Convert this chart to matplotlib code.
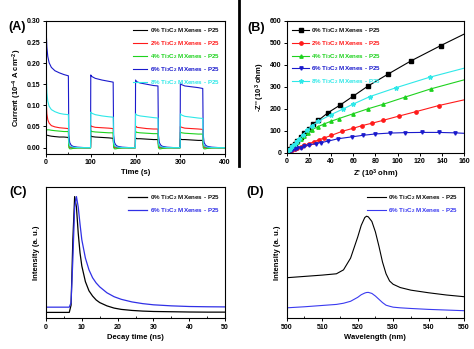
import numpy as np
import matplotlib
matplotlib.use("Agg")
import matplotlib.pyplot as plt
from matplotlib.ticker import MultipleLocator, FormatStrFormatter

plt.rcParams['font.family'] = ['Liberation Sans', 'DejaVu Sans']
plt.rcParams['font.weight'] = 'bold'
plt.rcParams['mathtext.fontset'] = 'custom'
plt.rcParams['mathtext.rm'] = 'Liberation Sans:bold'
plt.rcParams['mathtext.it'] = 'Liberation Sans:bold'
plt.rcParams['mathtext.bf'] = 'Liberation Sans:bold'

labels = ["0% Ti$_3$C$_2$ MXenes - P25", "2% Ti$_3$C$_2$ MXenes - P25",
          "4% Ti$_3$C$_2$ MXenes - P25", "6% Ti$_3$C$_2$ MXenes - P25",
          "8% Ti$_3$C$_2$ MXenes - P25"]
colors = ["#000000", "#ff1a1a", "#1ed21e", "#1a1acc", "#2ee8e8"]
text_colors = ["#111111", "#ff1a1a", "#1ed21e", "#1a1acc", "#2ee8e8"]

# (A) photocurrent, light on/off every 50 s
time_s = [0, 1, 2, 4, 7, 12, 20, 30, 40, 50,
          51, 53, 56, 60, 70, 85, 99.5,
          100, 101, 103, 110, 125, 140, 150,
          151, 153, 156, 160, 170, 185, 199.5,
          200, 201, 203, 210, 225, 240, 250,
          251, 253, 256, 260, 270, 285, 299.5,
          300, 301, 303, 310, 325, 340, 350,
          351, 353, 356, 360, 370, 385, 400]
cur_0 = [0.030, 0.029, 0.029, 0.029, 0.028, 0.027, 0.026, 0.025, 0.025, 0.024,
         0.008, 0.003, 0.001, 0.000, 0.000, 0.000, 0.000,
         0.028, 0.027, 0.026, 0.025, 0.024, 0.023, 0.022,
         0.008, 0.003, 0.001, 0.000, 0.000, 0.000, 0.000,
         0.023, 0.022, 0.021, 0.021, 0.020, 0.019, 0.019,
         0.008, 0.003, 0.001, 0.000, 0.000, 0.000, 0.000,
         0.021, 0.020, 0.019, 0.019, 0.018, 0.017, 0.017,
         0.008, 0.003, 0.001, 0.000, 0.000, 0.000, 0.000]
cur_2 = [0.145, 0.100, 0.080, 0.066, 0.058, 0.052, 0.049, 0.047, 0.046, 0.045,
         0.005, 0.000, -0.001, -0.001, -0.0005, 0.000, 0.000,
         0.052, 0.051, 0.050, 0.048, 0.047, 0.046, 0.045,
         0.005, 0.000, -0.001, -0.001, -0.0005, 0.000, 0.000,
         0.051, 0.050, 0.048, 0.047, 0.045, 0.044, 0.044,
         0.005, 0.000, -0.001, -0.001, -0.0005, 0.000, 0.000,
         0.050, 0.049, 0.048, 0.046, 0.045, 0.044, 0.043,
         0.005, 0.000, -0.001, -0.001, -0.0005, 0.000, 0.000]
cur_4 = [0.043, 0.043, 0.042, 0.042, 0.042, 0.041, 0.040, 0.039, 0.038, 0.038,
         0.000, -0.003, -0.003, -0.002, -0.001, -0.001, -0.001,
         0.040, 0.039, 0.038, 0.037, 0.036, 0.035, 0.035,
         0.000, -0.003, -0.003, -0.002, -0.001, -0.001, -0.001,
         0.038, 0.037, 0.036, 0.035, 0.034, 0.033, 0.033,
         0.000, -0.003, -0.003, -0.002, -0.001, -0.001, -0.001,
         0.036, 0.036, 0.035, 0.034, 0.033, 0.032, 0.032,
         0.000, -0.003, -0.003, -0.002, -0.001, -0.001, -0.001]
cur_6 = [0.300, 0.262, 0.238, 0.216, 0.201, 0.190, 0.182, 0.177, 0.173, 0.170,
         0.030, 0.012, 0.006, 0.003, 0.001, 0.000, 0.000,
         0.172, 0.170, 0.168, 0.164, 0.160, 0.157, 0.155,
         0.030, 0.012, 0.006, 0.003, 0.001, 0.000, 0.000,
         0.160, 0.158, 0.156, 0.153, 0.150, 0.147, 0.146,
         0.030, 0.012, 0.006, 0.003, 0.001, 0.000, 0.000,
         0.153, 0.151, 0.149, 0.146, 0.144, 0.142, 0.140,
         0.030, 0.012, 0.006, 0.003, 0.001, 0.000, 0.000]
cur_8 = [0.220, 0.160, 0.130, 0.110, 0.098, 0.090, 0.085, 0.081, 0.079, 0.078,
         0.012, 0.004, 0.002, 0.001, 0.000, 0.000, 0.000,
         0.084, 0.083, 0.081, 0.078, 0.075, 0.073, 0.072,
         0.012, 0.004, 0.002, 0.001, 0.000, 0.000, 0.000,
         0.080, 0.079, 0.077, 0.075, 0.073, 0.071, 0.070,
         0.012, 0.004, 0.002, 0.001, 0.000, 0.000, 0.000,
         0.080, 0.079, 0.077, 0.074, 0.072, 0.070, 0.069,
         0.012, 0.004, 0.002, 0.001, 0.000, 0.000, 0.000]

# (B) EIS Nyquist
zr_0 = [0, 1.5, 3, 5, 7, 9.5, 12.5, 16, 20, 24, 28.6, 37, 48, 60, 73, 91, 112, 139, 160]
zi_0 = [0, 10, 19, 31, 42, 55, 70, 89, 110, 130, 148, 182, 217, 258, 303, 357, 418, 488, 540]
zr_2 = [0, 1.5, 3, 5, 7, 9.5, 12.5, 16, 20, 25, 29, 34, 40, 50, 60, 68, 77, 87, 101, 117, 137, 160]
zi_2 = [0, 4, 8, 12, 16, 21, 27, 34, 42, 51, 60, 68, 79, 98, 112, 124, 135, 148, 167, 188, 215, 241]
zr_4 = [0, 1.5, 3, 5, 7, 9.5, 12.5, 16, 19, 23, 28, 34, 40, 47, 60, 73, 87, 107, 130, 160]
zi_4 = [0, 8, 16, 27, 38, 50, 62, 76, 90, 106, 119, 132, 144, 156, 178, 200, 221, 254, 291, 332]
zr_6 = [0, 1.5, 3, 5, 7, 9.5, 12.5, 16, 20, 26, 31, 37, 46, 59, 69, 80, 93, 107, 122, 137, 152, 160]
zi_6 = [0, 4, 8, 12, 16, 20, 24, 29, 35, 42, 47, 53, 64, 73, 80, 86, 90, 92, 93, 93, 91, 89]
zr_8 = [0, 1.5, 3, 5, 7, 9, 11, 14.5, 18.6, 23, 28.6, 40, 51, 60, 75, 99, 129, 160]
zi_8 = [0, 10, 19, 30, 41, 52, 63, 83, 104, 124, 144, 174, 200, 222, 256, 297, 344, 385]
markers = ['s', 'o', '^', 'v', '*']

# (C) TRPL decay
decay_t = [0, 6.5, 7, 7.5, 8, 8.5, 9, 9.5, 10, 11, 12, 13, 14, 15, 17, 19, 21, 24, 27, 30, 35, 40, 45, 50]
decay_0 = [0.045, 0.045, 0.10, 0.60, 0.93, 0.85, 0.65, 0.50, 0.40, 0.28, 0.21, 0.17, 0.14, 0.12,
           0.095, 0.078, 0.068, 0.060, 0.055, 0.052, 0.050, 0.048, 0.047, 0.047]
decay_6 = [0.085, 0.085, 0.12, 0.45, 0.85, 0.93, 0.85, 0.72, 0.60, 0.46, 0.37, 0.31, 0.27, 0.24,
           0.195, 0.165, 0.145, 0.125, 0.112, 0.103, 0.095, 0.090, 0.088, 0.087]

# (D) PL spectra
wl = [500, 505, 510, 514, 516, 518, 520, 521, 522, 522.5, 523, 524, 525, 526, 527, 528, 529, 530,
      532, 535, 540, 545, 550]
pl_0 = [0.31, 0.32, 0.33, 0.34, 0.37, 0.46, 0.62, 0.71, 0.77, 0.78, 0.775, 0.74, 0.66, 0.55, 0.43,
        0.34, 0.285, 0.26, 0.235, 0.215, 0.195, 0.178, 0.165]
pl_6 = [0.080, 0.088, 0.098, 0.106, 0.115, 0.13, 0.16, 0.18, 0.193, 0.197, 0.198, 0.19, 0.17,
        0.145, 0.12, 0.10, 0.092, 0.085, 0.080, 0.075, 0.068, 0.063, 0.058]

fig = plt.figure(figsize=(4.74, 3.49), dpi=100)
axA = fig.add_axes([0.097, 0.559, 0.378, 0.381])
axB = fig.add_axes([0.605, 0.562, 0.374, 0.378])
axC = fig.add_axes([0.097, 0.088, 0.378, 0.375])
axD = fig.add_axes([0.605, 0.088, 0.374, 0.375])

fs_tick = 5
fs_lab = 5.5
fs_leg = 4.5


def style(ax):
    for s in ax.spines.values():
        s.set_linewidth(0.8)
    ax.tick_params(which='major', direction='out', length=2.5, width=0.7, labelsize=fs_tick, pad=1.5)
    ax.tick_params(which='minor', direction='in', length=1.5, width=0.6)
    for lab in ax.get_xticklabels() + ax.get_yticklabels():
        lab.set_fontweight('bold')


def color_legend(leg, cols):
    for txt, c in zip(leg.get_texts(), cols):
        txt.set_color(c)


# A
for y, c, lab in zip([cur_0, cur_2, cur_4, cur_6, cur_8], colors, labels):
    axA.plot(time_s, y, color=c, lw=0.8, label=lab)
axA.set_xlim(0, 400)
axA.set_ylim(-0.015, 0.30)
axA.xaxis.set_major_locator(MultipleLocator(100))
axA.xaxis.set_minor_locator(MultipleLocator(50))
axA.yaxis.set_major_locator(MultipleLocator(0.05))
axA.yaxis.set_major_formatter(FormatStrFormatter('%.2f'))
axA.set_xlabel("Time (s)", fontsize=fs_lab, fontweight='bold', labelpad=2)
axA.set_ylabel("Current (10$^{-4}$ A cm$^{-2}$)", fontsize=fs_lab, fontweight='bold', labelpad=2)
style(axA)
leg = axA.legend(loc='upper right', bbox_to_anchor=(1.0, 1.0), frameon=False,
                 fontsize=fs_leg, handlelength=2.3, handletextpad=0.4, labelspacing=0.65,
                 prop={'weight': 'bold', 'size': fs_leg})
color_legend(leg, text_colors)

# B
zr_all = [zr_0, zr_2, zr_4, zr_6, zr_8]
zi_all = [zi_0, zi_2, zi_4, zi_6, zi_8]
for x, y, c, m, lab in zip(zr_all, zi_all, colors, markers, labels):
    axB.plot(x, y, color=c, lw=0.8, marker=m, ms=3.2 if m == '*' else 2.4,
             markevery=slice(1, -1), label=lab)
axB.set_xlim(0, 160)
axB.set_ylim(0, 600)
axB.xaxis.set_major_locator(MultipleLocator(20))
axB.yaxis.set_major_locator(MultipleLocator(100))
axB.set_xlabel("Z' (10$^3$ ohm)", fontsize=fs_lab, fontweight='bold', labelpad=2)
axB.set_ylabel("-Z'' (10$^3$ ohm)", fontsize=fs_lab, fontweight='bold', labelpad=2)
style(axB)
leg = axB.legend(loc='upper left', bbox_to_anchor=(0.0, 1.0), frameon=False,
                 handlelength=2.6, handletextpad=0.4, labelspacing=0.6,
                 prop={'weight': 'bold', 'size': fs_leg})
color_legend(leg, text_colors)

# C
axC.plot(decay_t, decay_0, color='#000000', lw=0.9, label=labels[0])
axC.plot(decay_t, decay_6, color='#3030e6', lw=0.9, label=labels[3])
axC.set_xlim(0, 50)
axC.set_ylim(0, 1.0)
axC.xaxis.set_major_locator(MultipleLocator(10))
axC.xaxis.set_minor_locator(MultipleLocator(5))
axC.set_yticks([])
axC.set_xlabel("Decay time (ns)", fontsize=fs_lab, fontweight='bold', labelpad=2)
axC.set_ylabel("Intensity (a. u.)", fontsize=fs_lab, fontweight='bold', labelpad=4)
style(axC)
leg = axC.legend(loc='upper right', bbox_to_anchor=(1.0, 1.0), frameon=False,
                 handlelength=3.0, handletextpad=0.4, labelspacing=0.6,
                 prop={'weight': 'bold', 'size': fs_leg})
color_legend(leg, ['#111111', '#3030e6'])

# D
axD.plot(wl, pl_0, color='#000000', lw=0.8, label=labels[0])
axD.plot(wl, pl_6, color='#3a3af0', lw=0.8, label=labels[3])
axD.set_xlim(500, 550)
axD.set_ylim(0, 1.0)
axD.xaxis.set_major_locator(MultipleLocator(10))
axD.xaxis.set_minor_locator(MultipleLocator(5))
axD.set_yticks([])
axD.set_xlabel("Wavelength (nm)", fontsize=fs_lab, fontweight='bold', labelpad=2)
axD.set_ylabel("Intensity (a. u.)", fontsize=fs_lab, fontweight='bold', labelpad=4)
style(axD)
leg = axD.legend(loc='upper right', bbox_to_anchor=(1.0, 1.0), frameon=False,
                 handlelength=3.0, handletextpad=0.4, labelspacing=0.6,
                 prop={'weight': 'bold', 'size': fs_leg})
color_legend(leg, ['#111111', '#3a3af0'])

# panel letters
for txt, x, y in [("(A)", 0.018, 0.922), ("(B)", 0.522, 0.920), ("(C)", 0.020, 0.450), ("(D)", 0.520, 0.450)]:
    fig.text(x, y, txt, fontsize=9, fontweight='bold', va='center', ha='left')

# thick divider between A and B
fig.add_artist(plt.Line2D([0.504, 0.504], [1.0, 0.524], color='black', lw=2.0,
                          transform=fig.transFigure))

fig.savefig("out.png", dpi=100)
